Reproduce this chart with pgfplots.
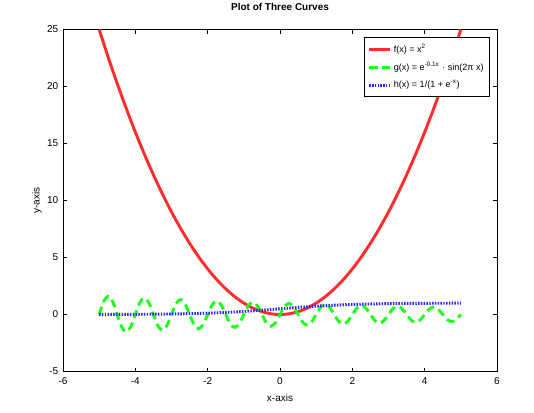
\documentclass[border=0pt]{standalone}
\usepackage{pgfplots}
\pgfplotsset{compat=1.18}
\usepackage{fontspec}
\setmainfont{Liberation Sans}
\definecolor{cred}{RGB}{255,45,45}
\definecolor{cgreen}{RGB}{30,255,30}
\definecolor{cblue}{RGB}{40,40,255}
\begin{document}
\begin{tikzpicture}
\path[use as bounding box] (0pt,0pt) rectangle (400.5pt,309pt);
\begin{axis}[
  at={(47.25pt,30.375pt)}, anchor=south west,
  scale only axis, width=325.5pt, height=256.5pt,
  xmin=-6, xmax=6, ymin=-5, ymax=25,
  xtick={-6,-4,...,6}, ytick={-5,0,...,25},
  tick align=inside, major tick length=3pt,
  tick style={black, line width=0.5pt},
  axis line style={black, line width=0.6pt},
  /pgf/number format/assume math mode=true,
  tick label style={font=\fontsize{7.5}{9}\selectfont},
  xticklabel style={yshift=-1pt},
  title={\textbf{Plot of Three Curves}},
  title style={font=\fontsize{7.5}{9}\selectfont, at={(axis description cs:0.5,1.0424)}, anchor=center},
  xlabel={x-axis}, ylabel={y-axis},
  xlabel style={font=\fontsize{7.5}{9}\selectfont, at={(axis description cs:0.5,-0.0775)}, anchor=center},
  ylabel style={font=\fontsize{7.5}{9}\selectfont, at={(axis description cs:-0.060,0.5)}, anchor=center},
  legend style={at={(0.984,0.978)}, anchor=north east, font=\fontsize{6.8}{8}\selectfont,
    draw=black, line width=0.5pt, row sep=1.8pt, inner xsep=2.5pt, inner ysep=3pt},
  legend cell align=left,
  legend image post style={xscale=0.9},
  clip=true,
]
\addplot[cred, line width=2.2pt, smooth] coordinates {
(-5,25) (-4.75,22.5625) (-4.5,20.25) (-4.25,18.0625) (-4,16) (-3.75,14.0625) (-3.5,12.25) (-3.25,10.5625)
(-3,9) (-2.75,7.5625) (-2.5,6.25) (-2.25,5.0625) (-2,4) (-1.75,3.0625) (-1.5,2.25) (-1.25,1.5625)
(-1,1) (-0.75,0.5625) (-0.5,0.25) (-0.25,0.0625) (0,0) (0.25,0.0625) (0.5,0.25) (0.75,0.5625)
(1,1) (1.25,1.5625) (1.5,2.25) (1.75,3.0625) (2,4) (2.25,5.0625) (2.5,6.25) (2.75,7.5625)
(3,9) (3.25,10.5625) (3.5,12.25) (3.75,14.0625) (4,16) (4.25,18.0625) (4.5,20.25) (4.75,22.5625) (5,25)
};
\addlegendentry{f(x) = x\textsuperscript{2}}
\addplot[cgreen, line width=2.2pt, dash pattern=on 6pt off 3.8pt, smooth] coordinates {
(-5,0) (-4.875,1.1513) (-4.75,1.6080) (-4.625,1.1229) (-4.5,0) (-4.375,-1.0952) (-4.25,-1.5296) (-4.125,-1.0682)
(-4,0) (-3.875,1.0418) (-3.75,1.4550) (-3.625,1.0161) (-3.5,0) (-3.375,-0.9910) (-3.25,-1.3840) (-3.125,-0.9665)
(-3,0) (-2.875,0.9426) (-2.75,1.3165) (-2.625,0.9194) (-2.5,0) (-2.375,-0.8967) (-2.25,-1.2523) (-2.125,-0.8745)
(-2,0) (-1.875,0.8529) (-1.75,1.1913) (-1.625,0.8319) (-1.5,0) (-1.375,-0.8113) (-1.25,-1.1332) (-1.125,-0.7913)
(-1,0) (-0.875,0.7718) (-0.75,1.0779) (-0.625,0.7527) (-0.5,0) (-0.375,-0.7341) (-0.25,-1.0253) (-0.125,-0.7160)
(0,0) (0.125,0.6983) (0.25,0.9753) (0.375,0.6811) (0.5,0) (0.625,-0.6643) (0.75,-0.9277) (0.875,-0.6479)
(1,0) (1.125,0.6319) (1.25,0.8825) (1.375,0.6163) (1.5,0) (1.625,-0.6011) (1.75,-0.8395) (1.875,-0.5862)
(2,0) (2.125,0.5717) (2.25,0.7985) (2.375,0.5576) (2.5,0) (2.625,-0.5439) (2.75,-0.7596) (2.875,-0.5304)
(3,0) (3.125,0.5173) (3.25,0.7225) (3.375,0.5046) (3.5,0) (3.625,-0.4921) (3.75,-0.6873) (3.875,-0.4800)
(4,0) (4.125,0.4681) (4.25,0.6538) (4.375,0.4565) (4.5,0) (4.625,-0.4453) (4.75,-0.6219) (4.875,-0.4343) (5,0)
};
\addlegendentry{g(x) = e\textsuperscript{-0.1x} $\cdot$ sin(2π x)}
\addplot[cblue, line width=2.2pt, dash pattern=on 1.1pt off 1.0pt, smooth] coordinates {
(-5,0.00669) (-4.5,0.01099) (-4,0.01799) (-3.5,0.02931) (-3,0.04743) (-2.5,0.07586) (-2,0.11920)
(-1.5,0.18243) (-1,0.26894) (-0.5,0.37754) (0,0.5) (0.5,0.62246) (1,0.73106) (1.5,0.81757)
(2,0.88080) (2.5,0.92414) (3,0.95257) (3.5,0.97069) (4,0.98201) (4.5,0.98901) (5,0.99331)
};
\addlegendentry{h(x) = 1/(1 + e\textsuperscript{-x})}
\end{axis}
\end{tikzpicture}
\end{document}
